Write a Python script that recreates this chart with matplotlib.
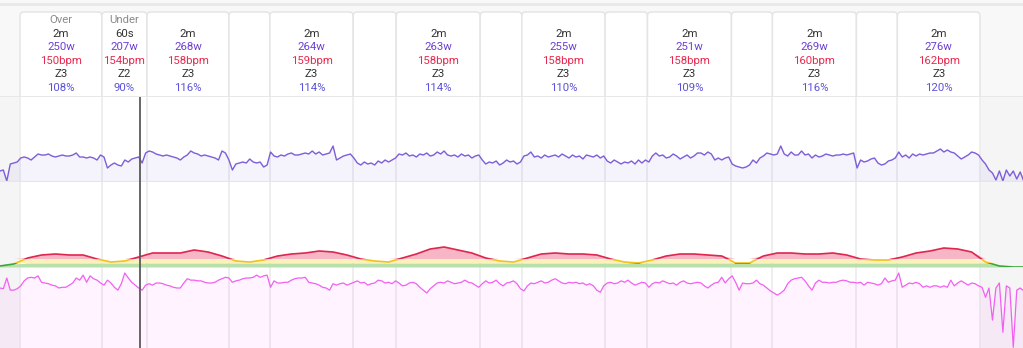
import numpy as np
import matplotlib.pyplot as plt
from matplotlib.patches import FancyBboxPatch, Rectangle

plt.rcParams['font.family'] = ['Roboto', 'DejaVu Sans']

# interval boundaries (seconds from the start of the first effort)
interval_start = [0, 118, 183, 301, 360, 480, 542, 663, 723, 843, 904, 1025, 1084, 1205, 1264]
interval_end = 1383
interval_title = ["Over", "Under", "", None, "", None, "", None, "", None, "", None, "", None, ""]
interval_time = ["2m", "60s", "2m", None, "2m", None, "2m", None, "2m", None, "2m", None, "2m", None, "2m"]
interval_watts = [250, 207, 268, None, 264, None, 263, None, 255, None, 251, None, 269, None, 276]
interval_bpm = [150, 154, 158, None, 159, None, 158, None, 158, None, 158, None, 160, None, 162]
interval_zone = ["Z3", "Z2", "Z3", None, "Z3", None, "Z3", None, "Z3", None, "Z3", None, "Z3", None, "Z3"]
interval_pct = [108, 90, 116, None, 114, None, 114, None, 110, None, 109, None, 116, None, 120]

cursor_t = 173

# 5 second samples starting at -29 s
power = [
    166, 172, 106, 208, 214, 220, 244, 250, 244, 232,
    250, 268, 262, 262, 268, 256, 250, 256, 262, 256,
    256, 262, 274, 250, 250, 244, 250, 244, 232, 262,
    250, 184, 202, 214, 202, 196, 232, 220, 238, 244,
    250, 214, 274, 286, 280, 268, 262, 256, 262, 256,
    250, 244, 232, 250, 262, 286, 274, 268, 256, 262,
    256, 250, 244, 232, 286, 274, 232, 172, 208, 214,
    220, 214, 238, 220, 214, 220, 190, 202, 280, 256,
    250, 262, 256, 268, 274, 262, 262, 268, 274, 268,
    286, 268, 280, 262, 268, 274, 316, 232, 244, 256,
    262, 268, 244, 214, 202, 220, 208, 214, 202, 226,
    214, 232, 220, 232, 244, 268, 262, 274, 256, 262,
    250, 268, 262, 274, 256, 262, 280, 268, 286, 262,
    256, 262, 250, 268, 256, 262, 244, 256, 262, 232,
    208, 220, 214, 226, 202, 214, 232, 220, 226, 208,
    220, 256, 262, 280, 250, 256, 244, 262, 250, 256,
    262, 250, 268, 256, 244, 262, 250, 256, 238, 262,
    256, 250, 262, 244, 256, 226, 214, 232, 220, 208,
    220, 214, 226, 208, 232, 214, 232, 220, 256, 274,
    256, 262, 244, 250, 268, 256, 238, 250, 262, 244,
    256, 274, 274, 262, 280, 268, 232, 244, 232, 244,
    250, 208, 196, 190, 184, 190, 202, 232, 214, 244,
    256, 274, 268, 262, 268, 316, 268, 256, 280, 262,
    262, 286, 262, 268, 244, 262, 250, 256, 268, 262,
    256, 262, 262, 268, 262, 268, 274, 184, 232, 220,
    226, 238, 244, 214, 202, 208, 226, 232, 244, 280,
    250, 262, 244, 268, 256, 268, 262, 268, 274, 274,
    286, 298, 280, 292, 280, 274, 256, 238, 250, 262,
    280, 274, 262, 232, 208, 172, 154, 112, 166, 106,
    172, 136, 166, 118, 160, 106,
]

cadence = [
    84, 83, 98, 81, 81, 83, 87, 94, 98, 99,
    98, 101, 92, 91, 90, 88, 87, 84, 85, 85,
    88, 91, 98, 95, 102, 92, 101, 97, 95, 91,
    88, 95, 91, 85, 81, 90, 105, 98, 92, 88,
    84, 81, 88, 90, 88, 91, 91, 90, 88, 87,
    85, 84, 84, 91, 97, 95, 95, 94, 94, 92,
    91, 91, 92, 95, 97, 99, 98, 92, 94, 95,
    97, 98, 98, 99, 102, 99, 101, 102, 85, 94,
    91, 91, 92, 92, 95, 97, 98, 98, 99, 92,
    91, 90, 88, 85, 84, 81, 90, 88, 90, 91,
    88, 90, 92, 94, 91, 92, 88, 90, 91, 95,
    94, 91, 92, 90, 94, 91, 87, 88, 91, 92,
    90, 85, 81, 77, 83, 87, 91, 92, 91, 94,
    92, 90, 91, 92, 95, 92, 91, 88, 85, 90,
    94, 91, 92, 95, 90, 87, 91, 92, 94, 90,
    83, 80, 87, 91, 90, 92, 94, 91, 92, 95,
    97, 94, 91, 90, 92, 91, 92, 90, 91, 88,
    90, 87, 81, 78, 87, 91, 92, 90, 91, 94,
    92, 95, 91, 88, 90, 92, 91, 85, 90, 92,
    91, 94, 92, 90, 91, 88, 92, 94, 91, 90,
    91, 92, 91, 87, 84, 88, 91, 92, 99, 91,
    97, 101, 92, 81, 91, 90, 90, 91, 95, 90,
    88, 84, 80, 77, 74, 77, 81, 90, 95, 97,
    98, 99, 94, 87, 81, 91, 95, 92, 92, 91,
    92, 92, 94, 95, 94, 92, 92, 91, 92, 88,
    92, 91, 90, 88, 90, 98, 92, 94, 95, 105,
    85, 88, 91, 90, 92, 90, 85, 87, 85, 87,
    87, 85, 87, 85, 95, 87, 91, 94, 91, 88,
    91, 90, 87, 85, 71, 84, 39, 84, 91, 22,
    87, 84, 1, 81, 84, 80,
]

# heart rate, 20 second samples starting at -29 s
heart_rate = [
    146, 148, 154, 157, 158, 157, 157, 153, 150, 151,
    155, 159, 159, 159, 162, 160, 156, 151, 150, 152,
    156, 158, 159, 161, 160, 157, 153, 151, 150, 154,
    158, 163, 165, 162, 159, 154, 151, 150, 154, 158,
    159, 158, 158, 157, 153, 150, 149, 152, 156, 158,
    158, 157, 156, 149, 149, 156, 159, 159, 158, 158,
    159, 157, 153, 152, 152, 155, 159, 161, 164, 163,
    160, 150, 146, 145, 145,
]

# heart rate zones drawn under the line: (low, high, line colour, fill colour)
hr_zones = [
    (145, 149, '#3aa63c', '#b8e0ac'),
    (149, 153, '#f2c21b', '#fdf1bb'),
    (153, 400, '#e0264f', '#f6b6c6'),
]

t = np.arange(len(power)) * 5 - 29
t_hr = np.arange(len(heart_rate)) * 20 - 29
power = np.array(power)
cadence = np.array(cadence)
heart_rate = np.array(heart_rate)

x_min, x_max = -28.8, 1445
grid_color = '#eeeeee'
shade_color = '#f5f5f5'

fig = plt.figure(figsize=(10.23, 3.48), dpi=100)
H = 348.0
ax_top = fig.add_axes([0, (H - 97) / H, 1, 97 / H])
ax_pow = fig.add_axes([0, (H - 182) / H, 1, 85 / H])
ax_hr = fig.add_axes([0, (H - 268) / H, 1, 86 / H])
ax_cad = fig.add_axes([0, 0, 1, 80 / H])

for ax in (ax_top, ax_pow, ax_hr, ax_cad):
    ax.set_xlim(x_min, x_max)
    ax.axis('off')

# ---- interval boxes ----
ax_top.set_ylim(97, 0)
ax_top.add_patch(Rectangle((x_min, 0), x_max - x_min, 97, color='#f8f8f8', zorder=0))
ax_top.axhline(4, color='#e8e8e8', lw=2, zorder=1)
bounds = interval_start + [interval_end]
for i in range(len(interval_start)):
    x0, x1 = bounds[i], bounds[i + 1]
    box = FancyBboxPatch((x0, 12), x1 - x0, 95,
                         boxstyle='round,pad=0,rounding_size=5.5',
                         mutation_aspect=0.72,
                         facecolor='white', edgecolor='#e5e5e5', lw=1.1, zorder=2)
    ax_top.add_patch(box)
    if interval_watts[i] is None:
        continue
    xc = (x0 + x1) / 2
    rows = [
        ('%d%%' % interval_pct[i], '#5b52d8'),
        (interval_zone[i], '#333333'),
        ('%dbpm' % interval_bpm[i], '#e8294f'),
        ('%dw' % interval_watts[i], '#6c3fd4'),
        (interval_time[i], '#333333'),
    ]
    if interval_title[i]:
        rows.append((interval_title[i], '#8a8a8a'))
    y = 88
    for txt, col in rows:
        ax_top.text(xc, y, txt, ha='center', va='center', fontsize=8.2, color=col, zorder=3)
        y -= 13.6
ax_top.axhline(96.5, color='#e6e6e6', lw=2, zorder=4)


def chart_background(ax):
    ax.axvspan(x_min, 0, color=shade_color, lw=0, zorder=0)
    ax.axvspan(interval_end, x_max, color=shade_color, lw=0, zorder=0)
    for b in bounds:
        ax.axvline(b, color=grid_color, lw=1.4, zorder=0.5)
    ax.axvline(cursor_t, color='#5a5a5a', lw=1.3, zorder=6)


# ---- power ----
ax_pow.set_ylim(100, 610)
chart_background(ax_pow)
ax_pow.fill_between(t, 100, power, color='#7b5cd6', alpha=0.07, lw=0, zorder=1)
ax_pow.plot(t, power, color='#7e5ed8', lw=1.0, zorder=2)
ax_pow.axhline(100.5, color='#e6e6e6', lw=1.6, zorder=3)

# ---- heart rate ----
ax_hr.set_ylim(144, 230)
chart_background(ax_hr)
for lo, hi, line_col, fill_col in hr_zones:
    top = np.clip(heart_rate, lo, hi)
    ax_hr.fill_between(t_hr, lo, top, where=heart_rate > lo, interpolate=True,
                       color=fill_col, lw=0, zorder=1)
    ln, = ax_hr.plot(t_hr, heart_rate, color=line_col, lw=1.2, zorder=2)
    clip = Rectangle((x_min, lo), x_max - x_min, hi - lo, transform=ax_hr.transData)
    ln.set_clip_path(clip)

# ---- cadence ----
ax_cad.set_ylim(0, 112)
chart_background(ax_cad)
ax_cad.fill_between(t, 0, cadence, color='#ff66ff', alpha=0.08, lw=0, zorder=1)
ax_cad.plot(t, cadence, color='#f260f2', lw=0.9, zorder=2)

fig.savefig('out.png', dpi=100)
